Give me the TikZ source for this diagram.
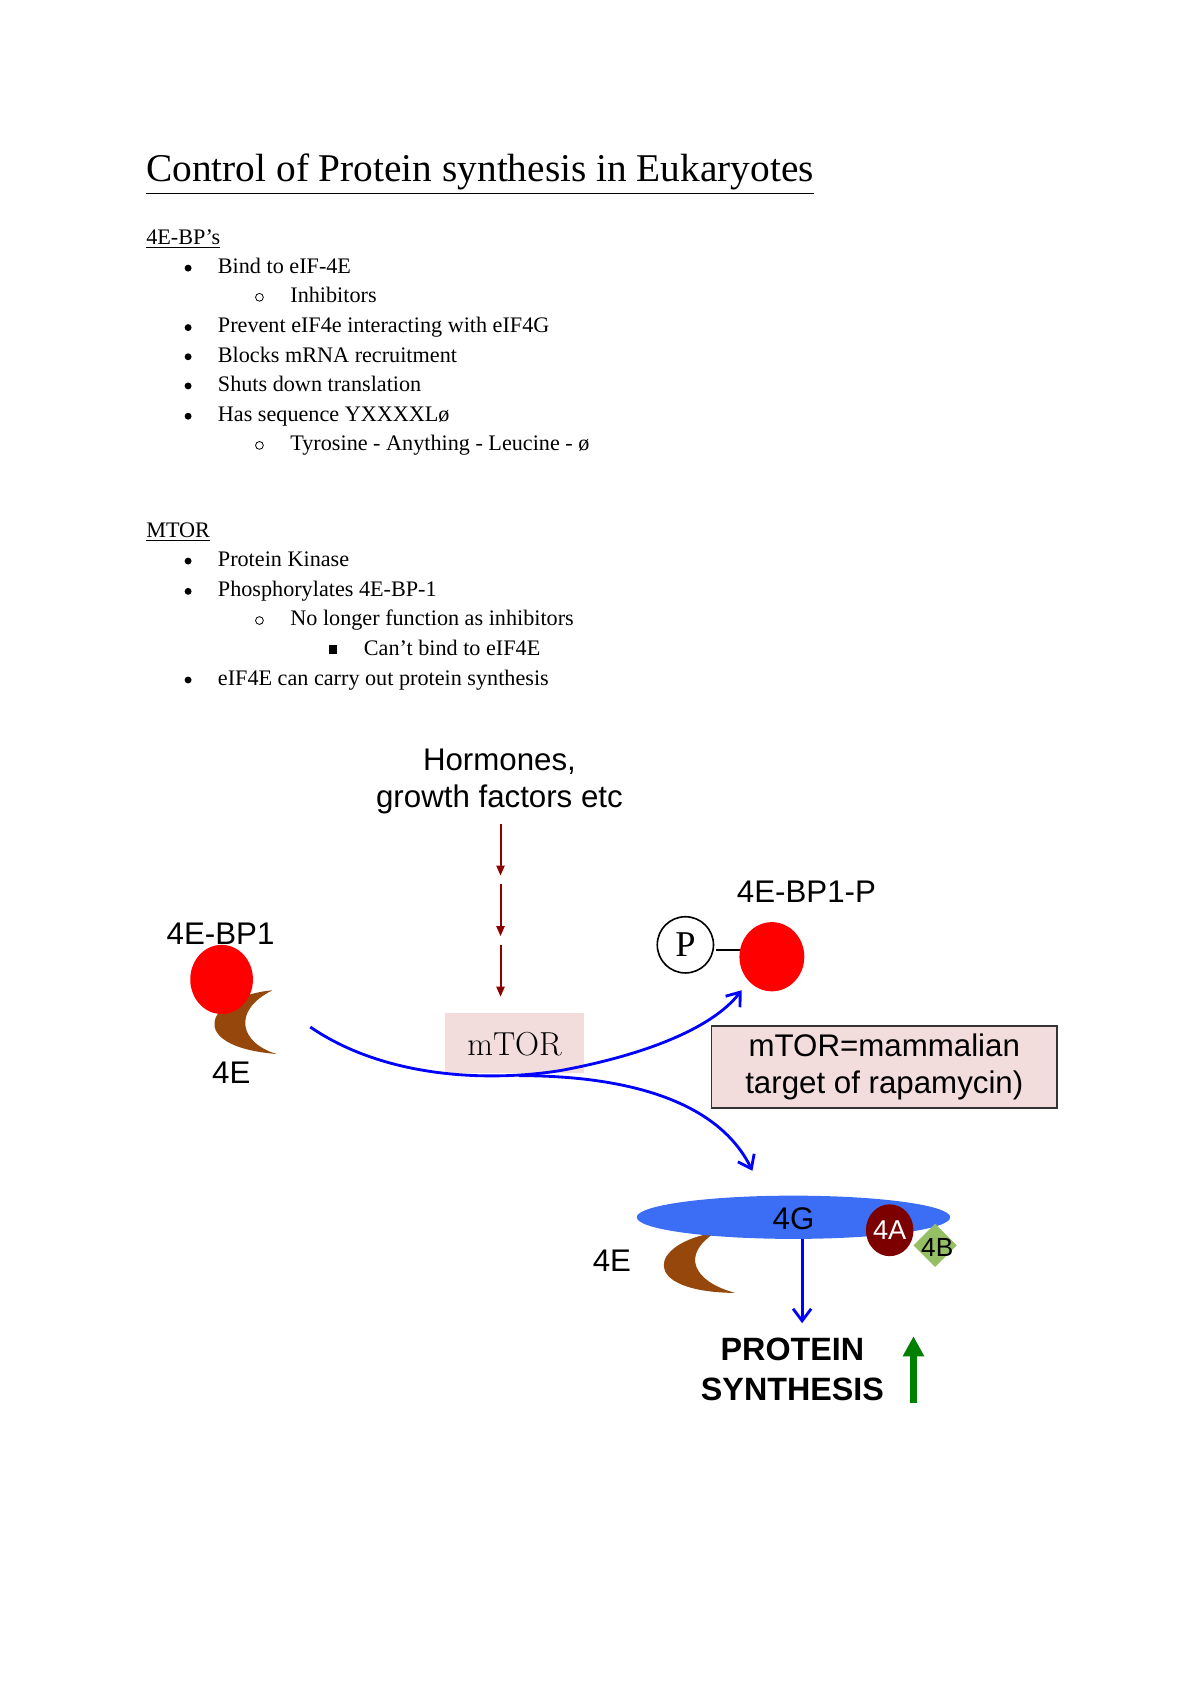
\documentclass[tikz,border=0pt]{standalone}
\usepackage{fontspec}
\setmainfont{Liberation Serif}
\setsansfont{Liberation Sans}
\usetikzlibrary{arrows.meta}
\definecolor{boxpink}{RGB}{242,220,220}
\definecolor{crescent}{RGB}{150,72,12}
\definecolor{gblue}{RGB}{60,110,245}
\definecolor{darkred4a}{RGB}{125,0,0}
\definecolor{green4b}{RGB}{150,190,100}
\tikzset{
  body/.style={anchor=base west,font=\fontsize{11}{13}\selectfont},
  lbl/.style={font=\sffamily\fontsize{15.5}{18}\selectfont},
  blob/.style={fill=red,draw=none},
  bluearr/.style={draw=blue,line width=1.4pt,-{Straight Barb[length=6pt,width=9pt]}},
  redarr/.style={draw=red!55!black,line width=1pt,-{Triangle[length=5pt,width=4pt]}},
}
\begin{document}
\begin{tikzpicture}[x=0.536pt,y=-0.536pt]
    \useasboundingbox (0,0) rectangle (1110,1567);

    % notes
    \node[anchor=base west,inner sep=0,font=\fontsize{19.5}{22}\selectfont] (title) at (135,168) {\underline{Control of Protein synthesis in Eukaryotes}};
    \node[body,inner sep=0] (bp) at (135,226) {\underline{4E-BP's}};
    \node[body] (b1) at (195,253) {Bind to eIF-4E};
    \node[body] (b2) at (262,280) {Inhibitors};
    \node[body] (b3) at (195,308) {Prevent eIF4e interacting with eIF4G};
    \node[body] (b4) at (195,335) {Blocks mRNA recruitment};
    \node[body] (b5) at (195,362) {Shuts down translation};
    \node[body] (b6) at (195,390) {Has sequence YXXXXL\o};
    \node[body] (b7) at (262,417) {Tyrosine - Anything - Leucine - \o};
    \node[body,inner sep=0] (mt) at (135,497) {\underline{MTOR}};
    \node[body] (m1) at (195,524) {Protein Kinase};
    \node[body] (m2) at (195,552) {Phosphorylates 4E-BP-1};
    \node[body] (m3) at (262,579) {No longer function as inhibitors};
    \node[body] (m4) at (330,606) {Can't bind to eIF4E};
    \node[body] (m5) at (195,634) {eIF4E can carry out protein synthesis};
    \foreach \y in {248,303,330,357,385,519,547,629}
        \fill (174,\y) circle [radius=3.2];
    \foreach \y in {275,412,574}
        \draw (240,\y) circle [radius=3.6];
    \fill (304,597) rectangle (312,605);

    % diagram
    \node[lbl,align=center] (horm) at (462,723) {Hormones,\\growth factors etc};
    \draw[redarr] (463,762) -- (463,810);
    \draw[redarr] (463,818) -- (463,866);
    \draw[redarr] (463,874) -- (463,922);

    \fill[boxpink] (412,937) rectangle (540,993);
    \node[font=\fontfamily{DejaVu Sans}\bfseries\fontsize{16.5}{18}\selectfont] (mtor) at (476,966) {mTOR};

    \fill[crescent] (252,916) .. controls (190,922) and (170,968) .. (256,975) .. controls (222,965) and (214,935) .. cycle;
    \fill[blob] (205,906) ellipse [x radius=29, y radius=32];
    \node[lbl] (bp1) at (204,864) {4E-BP1};
    \node[lbl] (e1) at (214,992) {4E};

    \draw[bluearr] (287,950) .. controls (360,1000) and (460,1000) .. (520,990) .. controls (600,975) and (660,950) .. (686,916);
    \draw[bluearr] (480,995) .. controls (560,995) and (660,1010) .. (696,1083);

    \draw[thick] (662,879) -- (690,879);
    \node[draw,thick,circle,minimum size=52pt*0.536,inner sep=0,font=\fontsize{18}{18}\selectfont] (p) at (634,874) {P};
    \fill[blob] (714,885) ellipse [x radius=30, y radius=32];
    \node[lbl] (bpp) at (746,825) {4E-BP1-P};

    \node[draw=black!80,thick,fill=boxpink,minimum width=320*0.536pt,minimum height=76*0.536pt,lbl,align=center,inner sep=0] (def) at (818,987) {mTOR=mammalian\\target of rapamycin)};

    \fill[crescent] (662,1140) .. controls (600,1150) and (590,1195) .. (680,1196) .. controls (640,1185) and (630,1160) .. cycle;
    \fill[gblue] (734,1126) ellipse [x radius=145, y radius=20];
    \node[lbl] (g4) at (734,1127) {4G};
    \fill[green4b] (865,1132) -- (885,1152) -- (865,1172) -- (845,1152) -- cycle;
    \node[lbl,font=\sffamily\fontsize{13}{14}\selectfont] (b4b) at (867,1154) {4B};
    \fill[darkred4a] (823,1138) ellipse [x radius=22, y radius=24];
    \node[lbl,text=white,font=\sffamily\fontsize{13.5}{14}\selectfont] (a4) at (823,1138) {4A};
    \node[lbl] (e2) at (566,1166) {4E};

    \draw[bluearr] (742,1146) -- (742,1224);
    \node[lbl,font=\sffamily\bfseries\fontsize{16}{20}\selectfont,align=center] (ps) at (733,1267) {PROTEIN\\SYNTHESIS};
    \draw[draw=green!50!black,line width=3pt,-{Triangle[length=10pt,width=10pt]}] (845,1298) -- (845,1236);
\end{tikzpicture}
\end{document}
